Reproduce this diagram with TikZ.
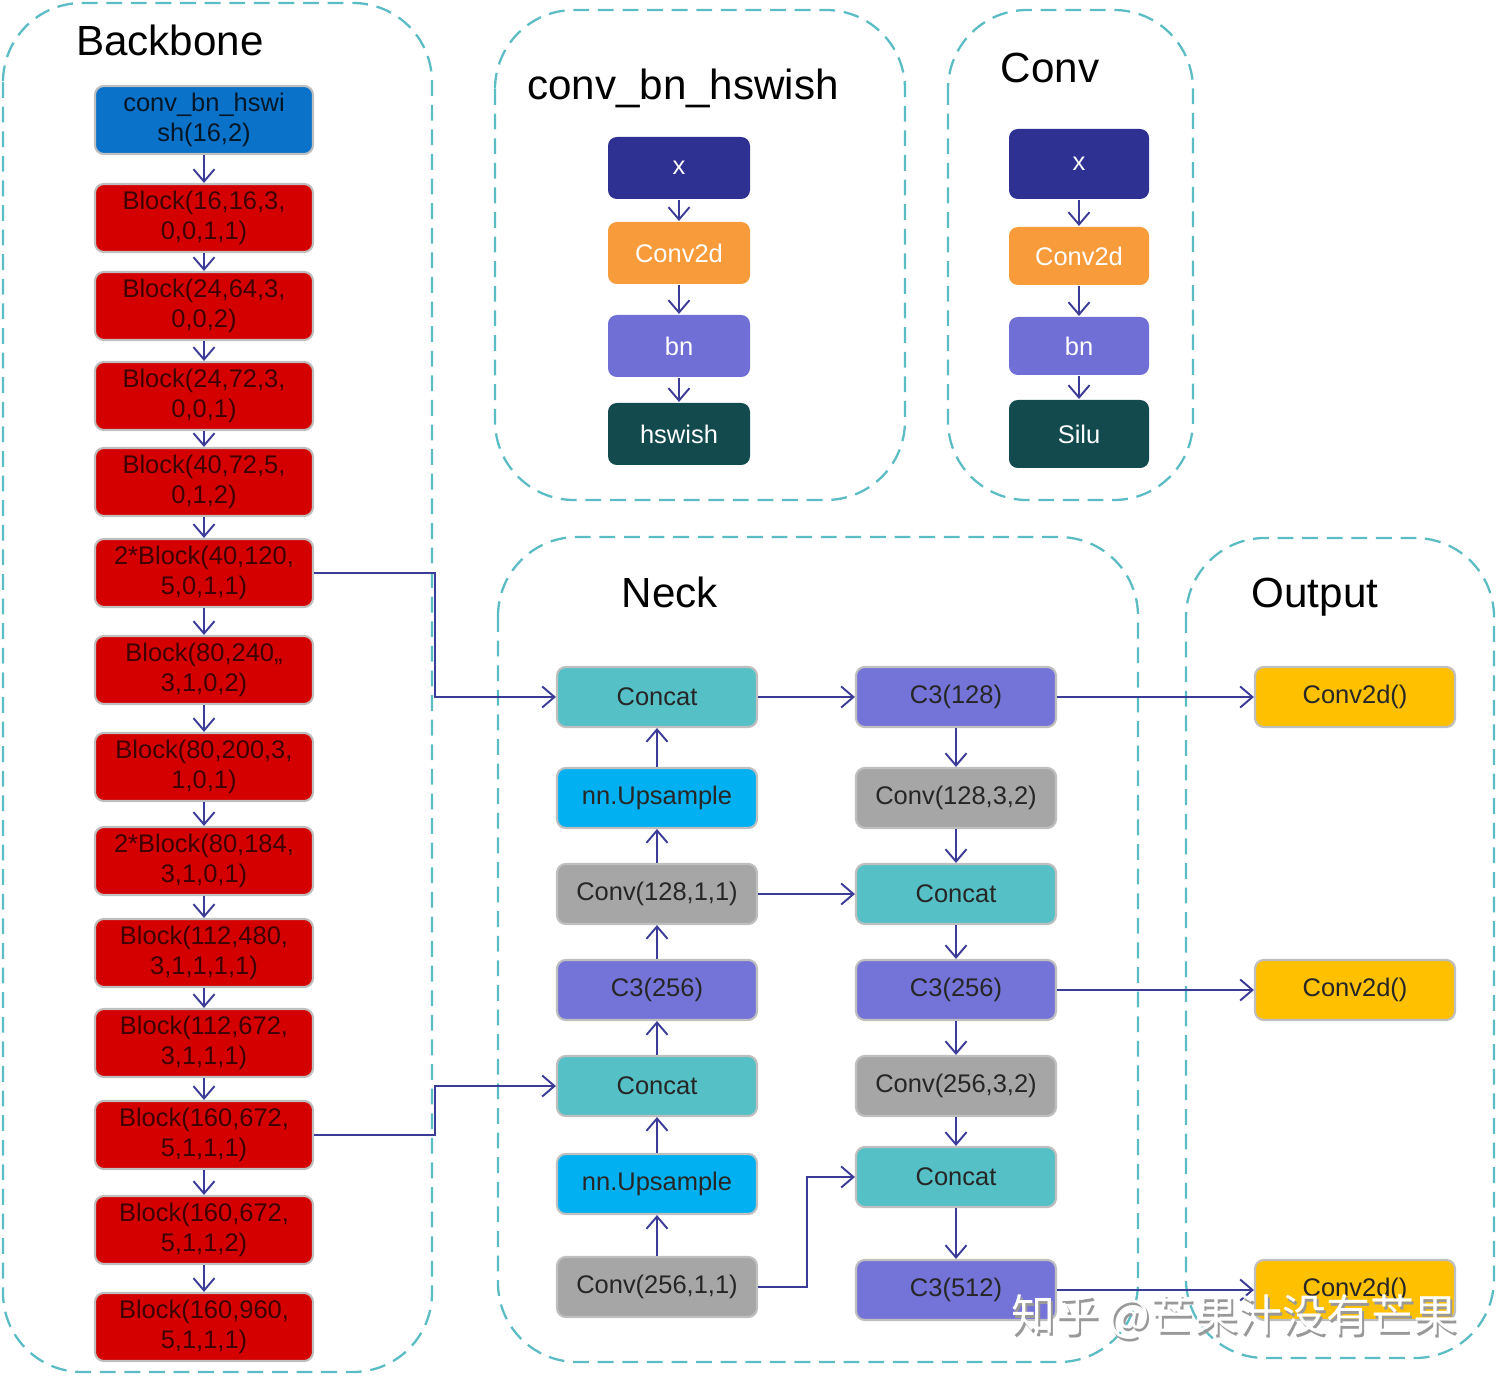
\documentclass[tikz,border=0pt]{standalone}
\usepackage{fontspec}
\setmainfont{Liberation Sans}
\newfontfamily\cjk{Noto Sans CJK SC}
\usetikzlibrary{arrows.meta}
\definecolor{dash}{HTML}{5BBCC4}
\definecolor{arr}{HTML}{3B3B98}
\definecolor{bblue}{HTML}{0A72C8}
\definecolor{bred}{HTML}{D40000}
\definecolor{xblue}{HTML}{2E3192}
\definecolor{orng}{HTML}{F89B3A}
\definecolor{bnc}{HTML}{6F6FD6}
\definecolor{hsw}{HTML}{124A4D}
\definecolor{teal}{HTML}{55C1C7}
\definecolor{ups}{HTML}{00B0F0}
\definecolor{gry}{HTML}{A6A6A6}
\definecolor{cthree}{HTML}{7474D8}
\definecolor{ylw}{HTML}{FFC000}
\begin{document}
\begin{tikzpicture}[x=0.02cm,y=-0.02cm,
  grp/.style={draw=dash,dashed,line width=1.3pt,rounded corners=45pt,dash pattern=on 9pt off 5pt},
  ttl/.style={font=\fontsize{24}{28}\selectfont,anchor=center},
  bx/.style={draw=gray!50,line width=1.2pt,rounded corners=5pt,align=center,inner sep=0pt,
    font=\fontsize{14.5}{17.5}\selectfont,text=black!85},
  bb/.style={bx,fill=bred,minimum width=218*0.02cm,minimum height=68*0.02cm,text=black!70!bred},
  sm/.style={bx,draw=none,minimum width=142*0.02cm,minimum height=62*0.02cm,text=white},
  nk/.style={bx,minimum width=200*0.02cm,minimum height=60*0.02cm},
  ar/.style={draw=arr,line width=1.1pt,-{Straight Barb[length=7pt,width=12pt]}}]
\useasboundingbox (0,0) rectangle (1498,1378);
% groups
\draw[grp] (3,3) rectangle (432,1372);
\draw[grp] (495,10) rectangle (905,500);
\draw[grp] (948,10) rectangle (1193,500);
\draw[grp] (498,537) rectangle (1138,1362);
\draw[grp] (1186,538) rectangle (1494,1358);
\node[ttl] at (170,40) {Backbone};
\node[ttl] at (683,88) {conv\_bn\_hswish};
\node[ttl] at (1050,68) {Conv};
\node[ttl] at (670,592) {Neck};
\node[ttl] at (1315,597) {Output};
% backbone
\node[bb,fill=bblue,text=black!80!bblue] (b0) at (204,120) {conv\_bn\_hswi\\sh(16,2)};
\node[bb] (b1) at (204,218) {Block(16,16,3,\\0,0,1,1)};
\node[bb] (b2) at (204,306) {Block(24,64,3,\\0,0,2)};
\node[bb] (b3) at (204,396) {Block(24,72,3,\\0,0,1)};
\node[bb] (b4) at (204,482) {Block(40,72,5,\\0,1,2)};
\node[bb] (b5) at (204,573) {2*Block(40,120,\\5,0,1,1)};
\node[bb] (b6) at (204,670) {Block(80,240,,\\3,1,0,2)};
\node[bb] (b7) at (204,767) {Block(80,200,3,\\1,0,1)};
\node[bb] (b8) at (204,861) {2*Block(80,184,\\3,1,0,1)};
\node[bb] (b9) at (204,953) {Block(112,480,\\3,1,1,1,1)};
\node[bb] (b10) at (204,1043) {Block(112,672,\\3,1,1,1)};
\node[bb] (b11) at (204,1135) {Block(160,672,\\5,1,1,1)};
\node[bb] (b12) at (204,1230) {Block(160,672,\\5,1,1,2)};
\node[bb] (b13) at (204,1327) {Block(160,960,\\5,1,1,1)};
\foreach \i [evaluate=\i as \j using int(\i+1)] in {0,...,12}
  \draw[ar] (b\i) -- (b\j);
% conv_bn_hswish
\node[sm,fill=xblue] (h1) at (679,168) {x};
\node[sm,fill=orng] (h2) at (679,253) {Conv2d};
\node[sm,fill=bnc] (h3) at (679,346) {bn};
\node[sm,fill=hsw] (h4) at (679,434) {hswish};
\draw[ar] (h1)--(h2); \draw[ar] (h2)--(h3); \draw[ar] (h3)--(h4);
% conv
\node[sm,fill=xblue,minimum width=140*0.02cm,minimum height=70*0.02cm] (c1) at (1079,164) {x};
\node[sm,fill=orng,minimum width=140*0.02cm,minimum height=58*0.02cm] (c2) at (1079,256) {Conv2d};
\node[sm,fill=bnc,minimum width=140*0.02cm,minimum height=58*0.02cm] (c3) at (1079,346) {bn};
\node[sm,fill=hsw,minimum width=140*0.02cm,minimum height=68*0.02cm] (c4) at (1079,434) {Silu};
\draw[ar] (c1)--(c2); \draw[ar] (c2)--(c3); \draw[ar] (c3)--(c4);
% neck left
\node[nk,fill=teal] (l1) at (657,697) {Concat};
\node[nk,fill=ups] (l2) at (657,798) {nn.Upsample};
\node[nk,fill=gry] (l3) at (657,894) {Conv(128,1,1)};
\node[nk,fill=cthree] (l4) at (657,990) {C3(256)};
\node[nk,fill=teal] (l5) at (657,1086) {Concat};
\node[nk,fill=ups] (l6) at (657,1184) {nn.Upsample};
\node[nk,fill=gry] (l7) at (657,1287) {Conv(256,1,1)};
\foreach \a/\b in {2/1,3/2,4/3,5/4,6/5,7/6} \draw[ar] (l\a)--(l\b);
% neck right
\node[nk,fill=cthree] (r1) at (956,697) {C3(128)};
\node[nk,fill=gry] (r2) at (956,798) {Conv(128,3,2)};
\node[nk,fill=teal] (r3) at (956,894) {Concat};
\node[nk,fill=cthree] (r4) at (956,990) {C3(256)};
\node[nk,fill=gry] (r5) at (956,1086) {Conv(256,3,2)};
\node[nk,fill=teal] (r6) at (956,1177) {Concat};
\node[nk,fill=cthree] (r7) at (956,1290) {C3(512)};
\foreach \a/\b in {1/2,2/3,3/4,4/5,5/6,6/7} \draw[ar] (r\a)--(r\b);
% output
\node[nk,fill=ylw] (o1) at (1355,697) {Conv2d()};
\node[nk,fill=ylw] (o2) at (1355,990) {Conv2d()};
\node[nk,fill=ylw] (o3) at (1355,1290) {Conv2d()};
% cross links
\draw[ar] (b5.east) -- (435,573) |- (l1.west);
\draw[ar] (b11.east) -- (435,1135) |- (l5.west);
\draw[ar] (l1)--(r1); \draw[ar] (l3)--(r3);
\draw[ar] (l7.east) -- (807,1287) |- (r6.west);
\draw[ar] (r1)--(o1); \draw[ar] (r4)--(o2); \draw[ar] (r7)--(o3);
% watermark
\node[font=\cjk\fontsize{25}{28}\selectfont,text=black!40,anchor=west] at (1007,1320) {知乎 @芒果汁没有芒果};
\node[font=\cjk\fontsize{25}{28}\selectfont,text=white,anchor=west] at (1005,1317) {知乎 @芒果汁没有芒果};
\end{tikzpicture}
\end{document}
